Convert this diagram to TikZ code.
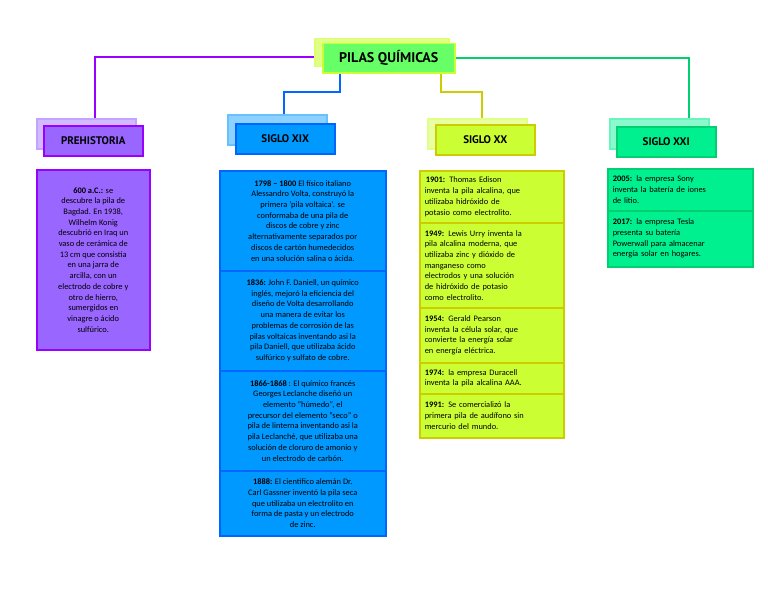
\documentclass[tikz,border=0pt]{standalone}
\usepackage{fontspec}
\setmainfont{Carlito}
\newfontfamily\titlefont{PT Sans}
\begin{document}
\begin{tikzpicture}[x=1pt,y=-1pt,
 back/.style={draw=#1!60,fill=#1!45,line width=1.5pt,minimum width=99pt,minimum height=30pt,anchor=north west,inner sep=0},
 head/.style={line width=1.5pt,minimum width=99pt,minimum height=30pt,anchor=north west,inner sep=0,font=\titlefont\bfseries\fontsize{11}{12}\selectfont},
 cbox/.style={line width=1.5pt,anchor=north west,inner sep=0,font=\fontsize{8.4}{10.7}\selectfont},
 link/.style={line width=2pt}]
\useasboundingbox (0,0) rectangle (768,594);
\definecolor{pur}{HTML}{9966FF}\definecolor{purd}{HTML}{9900FF}
\definecolor{blu}{HTML}{0099FF}\definecolor{blud}{HTML}{0066FF}
\definecolor{yel}{HTML}{CCFF33}\definecolor{yeld}{HTML}{CCCC00}
\definecolor{grn}{HTML}{00F090}\definecolor{grnd}{HTML}{00D070}
\definecolor{tgr}{HTML}{66FF66}\definecolor{lime}{HTML}{CCFF33}
% connectors (drawn first)
\coordinate (c1) at (95,57);
\draw[link,purd] (322,57) -| (95,121);
\draw[link,blud] (340,72) |- (284,92) -- (284,116);
\draw[link,yeld] (441,72) |- (482,92) -- (482,122);
\draw[link,grnd] (454,58) -| (689,125);
% title
\node[draw=lime!70,fill=lime!60,line width=1.5pt,minimum width=134pt,minimum height=28pt,anchor=north west] (tb) at (314,38) {};
\node[draw=lime,fill=tgr,line width=1.5pt,minimum width=132pt,minimum height=29pt,anchor=north west,inner sep=0,font=\titlefont\bfseries\fontsize{14}{15}\selectfont] (title) at (322,43) {PILAS QUÍMICAS};
% headers
\node[back=pur] (pb) at (36,118) {};
\node[head,draw=purd,fill=pur] (pre) at (43,125) {PREHISTORIA};
\node[back=blu] (b19) at (227,114) {};
\node[head,draw=blud,fill=blu] (s19) at (235,123) {SIGLO XIX};
\node[back=yel] (b20) at (427,118) {};
\node[head,draw=yeld,fill=yel] (s20) at (435,124) {SIGLO XX};
\node[back=grn] (b21) at (609,118) {};
\node[head,draw=grnd,fill=grn] (s21) at (616,126) {SIGLO XXI};
% prehistoria
\node[cbox,draw=purd,fill=pur,minimum width=113pt,minimum height=180pt,align=center] (p1) at (36,169) {\textbf{600 a.C.:} se\\descubre la pila de\\Bagdad. En 1938,\\Wilhelm Konig\\descubrió en Iraq un\\vaso de cerámica de\\13 cm que consistía\\en una jarra de\\arcilla, con un\\electrodo de cobre y\\otro de hierro,\\sumergidos en\\vinagre o ácido\\sulfúrico.};
% siglo XIX
\node[cbox,draw=blud,fill=blu,minimum width=166pt,minimum height=100pt,align=center] (x1) at (219,170) {\textbf{1798 – 1800} El físico italiano\\Alessandro Volta, construyó la\\primera 'pila voltaica'. se\\conformaba de una pila de\\discos de cobre y zinc\\alternativamente separados por\\discos de cartón humedecidos\\en una solución salina o ácida.};
\node[cbox,draw=blud,fill=blu,minimum width=166pt,minimum height=100pt,align=center] (x2) at (219,270) {\textbf{1836:} John F. Daniell, un químico\\inglés, mejoró la eficiencia del\\diseño de Volta desarrollando\\una manera de evitar los\\problemas de corrosión de las\\pilas voltaicas inventando asi la\\pila Daniell, que utilizaba ácido\\sulfúrico y sulfato de cobre.};
\node[cbox,draw=blud,fill=blu,minimum width=166pt,minimum height=100pt,align=center] (x3) at (219,370) {\textbf{1866-1868} : El químico francés\\Georges Leclanche diseñó un\\elemento "húmedo", el\\precursor del elemento "seco" o\\pila de linterna inventando asi la\\pila Leclanché, que utilizaba una\\solución de cloruro de amonio y\\un electrodo de carbón.};
\node[cbox,draw=blud,fill=blu,minimum width=166pt,minimum height=65pt,align=center] (x4) at (219,470) {\textbf{1888:} El científico alemán Dr.\\Carl Gassner inventó la pila seca\\que utilizaba un electrolito en\\forma de pasta y un electrodo\\de zinc.};
% siglo XX
\tikzset{ybox/.style={cbox,draw=yeld,fill=yel,minimum width=144pt,text width=134pt,align=left}}
\node[ybox,minimum height=52pt] (y1) at (419,170) {\hspace*{1pt}\textbf{1901:} Thomas Edison\\inventa la pila alcalina, que\\utilizaba hidróxido de\\potasio como electrolito.};
\node[ybox,minimum height=85pt] (y2) at (419,222) {\textbf{1949:} Lewis Urry inventa la\\pila alcalina moderna, que\\utilizaba zinc y dióxido de\\manganeso como\\electrodos y una solución\\de hidróxido de potasio\\como electrolito.};
\node[ybox,minimum height=55pt] (y3) at (419,307) {\textbf{1954:} Gerald Pearson\\inventa la célula solar, que\\convierte la energía solar\\en energía eléctrica.};
\node[ybox,minimum height=31pt] (y4) at (419,362) {\textbf{1974:} la empresa Duracell\\inventa la pila alcalina AAA.};
\node[ybox,minimum height=44pt] (y5) at (419,393) {\textbf{1991:} Se comercializó la\\primera pila de audífono sin\\mercurio del mundo.};
% siglo XXI
\tikzset{gbox/.style={cbox,draw=grnd,fill=grn,minimum width=145pt,text width=135pt,align=left}}
\node[gbox,minimum height=42pt] (g1) at (607,168) {\textbf{2005:} la empresa Sony\\inventa la batería de iones\\de litio.};
\node[gbox,minimum height=56pt] (g2) at (607,210) {\textbf{2017:} la empresa Tesla\\presenta su batería\\Powerwall para almacenar\\energía solar en hogares.};
\end{tikzpicture}
\end{document}
